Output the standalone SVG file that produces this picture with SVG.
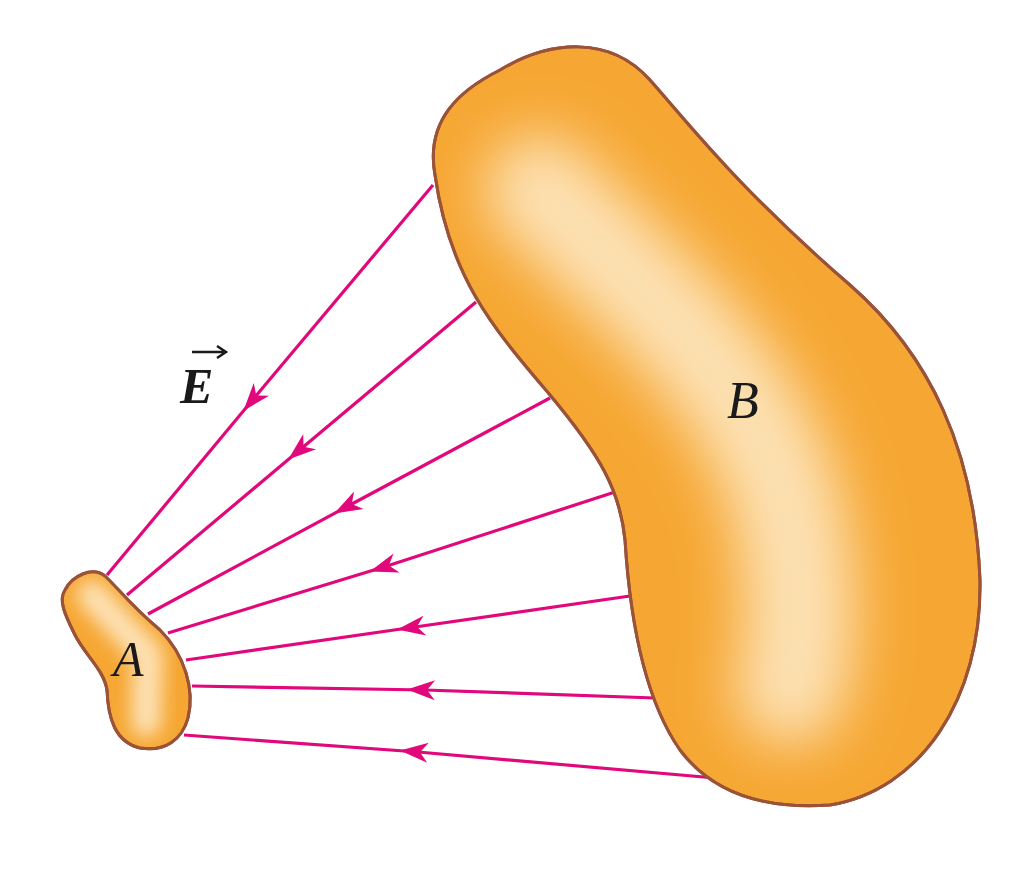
<svg xmlns="http://www.w3.org/2000/svg" width="1024" height="886" viewBox="0 0 1024 886">
<style>
.body{fill:#f6a733;stroke:#9a5238;stroke-width:3}
.ridge{fill:none;stroke:#fde1b4;stroke-linecap:round;filter:url(#blur)}
.field{fill:none;stroke:#e0087a;stroke-width:3.2;marker-mid:url(#arr)}
.lbl{font-family:"Liberation Serif",serif;font-style:italic;fill:#1a1a1a}
</style>
<defs>
<filter id="blur" x="-50%" y="-50%" width="200%" height="200%"><feGaussianBlur stdDeviation="28"/></filter>
<filter id="blurA" x="-50%" y="-50%" width="200%" height="200%"><feGaussianBlur stdDeviation="9"/></filter>
<marker id="arr" viewBox="0 0 30 20" refX="12" refY="10" markerWidth="30" markerHeight="20" markerUnits="userSpaceOnUse" orient="auto">
<path d="M0,10 L28,0 L20,10 L28,20 Z" fill="#e0087a" transform="rotate(180 15 10)"/>
</marker>
<clipPath id="cB"><path id="pB" d="M435,175 C425,120 460,90 500,70 C550,40 610,35 650,80 C690,125 740,190 850,285 C930,355 975,450 980,580 C982,700 920,790 830,805 C760,810 710,790 680,750 C645,700 630,620 625,540 C620,490 600,455 550,395 C495,330 450,280 435,175 Z"/></clipPath>
<clipPath id="cA"><path id="pA" d="M65,590 C72,576 92,566 105,576 C118,588 130,605 160,630 C185,655 195,690 188,718 C182,740 165,752 140,748 C115,742 108,718 107,690 C104,670 85,655 75,635 C65,615 58,600 65,590 Z"/></clipPath>
</defs>
<g id="connectors">
<path class="field" d="M433,185 L255,397 L107,575"/>
<path class="field" d="M476,302 L302,448 L127,595"/>
<path class="field" d="M550,398 L350,505 L148,614"/>
<path class="field" d="M615,492 L387,566 L168,633"/>
<path class="field" d="M630,596 L415,627 L186,660"/>
<path class="field" d="M655,698 L425,690 L192,686"/>
<path class="field" d="M715,778 L418,752 L184,735"/>
</g>
<g id="B">
<use href="#pB" class="body"/>
<g clip-path="url(#cB)"><path class="ridge" stroke-width="110" d="M540,190 C640,290 760,380 790,520 C805,600 800,650 790,690"/></g>
<use href="#pB" style="fill:none;stroke:#9a5238;stroke-width:3"/>
<text class="lbl" x="727" y="418" font-size="52">B</text>
</g>
<g id="A">
<use href="#pA" class="body"/>
<g clip-path="url(#cA)"><path d="M92,595 L148,655 L146,722" fill="none" stroke="#fde1b4" stroke-width="30" stroke-linecap="round" filter="url(#blurA)"/></g>
<use href="#pA" style="fill:none;stroke:#9a5238;stroke-width:3"/>
<text class="lbl" x="113" y="676" font-size="50">A</text>
</g>
<g id="E">
<text class="lbl" x="180" y="403" font-size="50" font-weight="bold">E</text>
<path d="M192,352 L224,352 M217,346 L226,352 L217,358" fill="none" stroke="#1a1a1a" stroke-width="2.5"/>
</g>
</svg>
